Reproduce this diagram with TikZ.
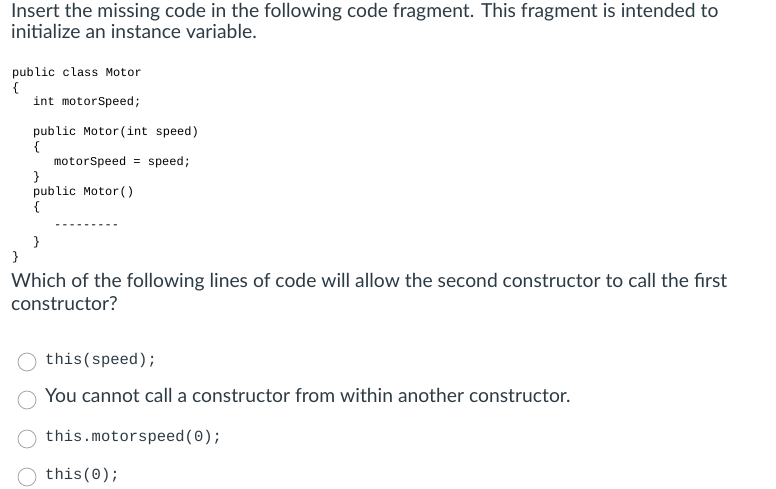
\documentclass[tikz,border=0pt]{standalone}
\usepackage{fontspec}
\setmainfont{Lato}
\setmonofont{Liberation Mono}
\definecolor{txt}{HTML}{2D3B45}
\begin{document}
\begin{tikzpicture}[x=1pt,y=-1pt,
  body/.style={anchor=base west,inner sep=0pt,text=txt,font=\fontsize{19.3}{22}\selectfont},
  code/.style={anchor=base west,inner sep=0pt,text=black,font=\ttfamily\fontsize{12}{14}\selectfont},
  opt/.style={anchor=mid west,inner sep=0pt,text=txt,font=\ttfamily\fontsize{15.5}{18}\selectfont},
  optb/.style={anchor=mid west,inner sep=0pt,text=txt,font=\fontsize{19.3}{22}\selectfont},
  radio/.style={circle,draw=gray!70,line width=0.8pt,minimum size=18pt,inner sep=0pt}]
\useasboundingbox[fill=white] (0,0) rectangle (776,489);
\node[body] (h1) at (11,18) {Insert the missing code in the following code fragment. This fragment is intended to};
\node[body] (h2) at (11,39) {initialize an instance variable.};
\node[code] (c1) at (12,77) {public class Motor};
\node[code] (c2) at (12,92) {\{};
\node[code] (c3) at (33,106) {int motorSpeed;};
\node[code] (c4) at (33,136) {public Motor(int speed)};
\node[code] (c5) at (33,151) {\{};
\node[code] (c6) at (54,166) {motorSpeed = speed;};
\node[code] (c7) at (33,181) {\}};
\node[code] (c8) at (33,196) {public Motor()};
\node[code] (c9) at (33,211) {\{};
\node[code] (c10) at (54,229) {---------};
\node[code] (c11) at (33,245) {\}};
\node[code] (c12) at (12,260) {\}};
\node[body] (q1) at (11,287) {Which of the following lines of code will allow the second constructor to call the first};
\node[body] (q2) at (11,310) {constructor?};
\node[radio] (r1) at (27,362) {};
\node[radio] (r2) at (27,400) {};
\node[radio] (r3) at (27,439) {};
\node[radio] (r4) at (27,477) {};
\node[opt] (o1) at (45,362) {this(speed);};
\node[optb] (o2) at (45,400) {You cannot call a constructor from within another constructor.};
\node[opt] (o3) at (45,439) {this.motorspeed(0);};
\node[opt] (o4) at (45,477) {this(0);};
\end{tikzpicture}
\end{document}
